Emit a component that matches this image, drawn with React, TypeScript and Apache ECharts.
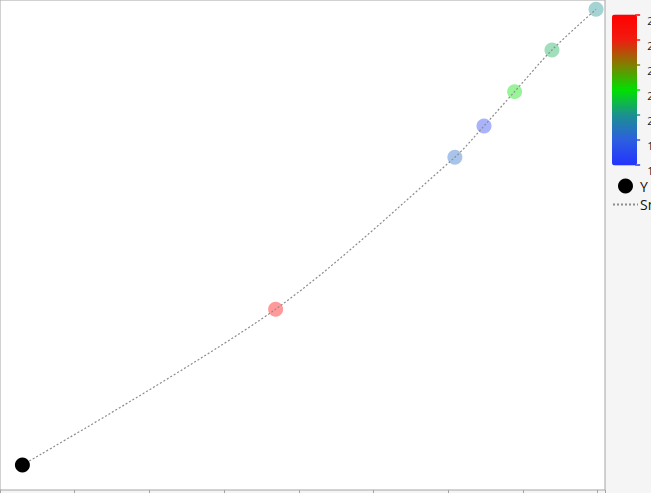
import React, { useEffect, useRef } from "react";
import * as echarts from "echarts";

// Main curve points (x, y)
const startPoint: [number, number] = [0.3, 0.51];
const xValues = [3.69, 6.09, 6.48, 6.89, 7.39, 7.98];
const yValues = [3.69, 6.79, 7.43, 8.13, 8.98, 9.81];
const colorValues = [2.38, 1.925, 1.83, 2.1, 2.04, 2.0];

// Colour bar
const colorMin = 1.8;
const colorMax = 2.4;
const colorTicks = [1.8, 1.9, 2.0, 2.1, 2.2, 2.3, 2.4];
const colorStops = ["#2233ff", "#2c5ee0", "#1c9090", "#00e000", "#808000", "#f01c10", "#ff0000"];

// X axis
const xMin = 0;
const xMax = 8.1;
const xInterval = 1;

export default function App() {
  const ref = useRef<HTMLDivElement>(null);
  useEffect(() => {
    if (!ref.current) return;
    const chart = echarts.init(ref.current, null, { renderer: "svg" });
    const colored = xValues.map((x, i) => [x, yValues[i], colorValues[i]]);
    const lineData = [startPoint, ...xValues.map((x, i) => [x, yValues[i]])];
    chart.setOption({
      animation: false,
      backgroundColor: "#f5f5f5",
      textStyle: { fontFamily: "Open Sans, Noto Sans, sans-serif" },
      grid: [
        {
          left: 0,
          top: 0,
          right: 46,
          bottom: 3,
          show: true,
          backgroundColor: "#ffffff",
          borderColor: "#a4a4a4",
          borderWidth: 1,
        },
        { left: 637, top: 15, width: 5, height: 150 },
      ],
      xAxis: [
        {
          type: "value",
          gridIndex: 0,
          min: xMin,
          max: xMax,
          interval: xInterval,
          axisLine: { show: false },
          axisTick: { show: true, length: 3, lineStyle: { color: "#a4a4a4" } },
          axisLabel: { show: false },
          splitLine: { show: false },
        },
        { type: "value", gridIndex: 1, min: 0, max: 1, show: false },
      ],
      yAxis: [
        {
          type: "value",
          gridIndex: 0,
          min: 0,
          max: 10,
          show: false,
        },
        {
          type: "value",
          gridIndex: 1,
          min: colorMin,
          max: colorMax,
          interval: 0.1,
          position: "right",
          axisLine: { show: false },
          axisTick: { show: false },
          splitLine: { show: false },
          axisLabel: {
            show: true,
            margin: 9,
            fontSize: 11,
            color: "#222",
            verticalAlign: "top",
            formatter: (v: number) => v.toFixed(1),
          },
        },
      ],
      visualMap: [
        {
          type: "continuous",
          min: colorMin,
          max: colorMax,
          dimension: 2,
          seriesIndex: [0],
          calculable: false,
          show: true,
          orient: "vertical",
          left: 612,
          top: 14.5,
          padding: 0,
          itemWidth: 25,
          itemHeight: 151,
          text: ["", ""],
          inRange: { color: colorStops },
        },
        {
          type: "continuous",
          min: colorMin,
          max: colorMax,
          dimension: 1,
          seriesIndex: [3],
          show: false,
          inRange: { color: colorStops },
        },
      ],
      legend: {
        orient: "vertical",
        left: 612,
        top: 178.5,
        itemWidth: 25,
        itemHeight: 15,
        itemGap: 4,
        padding: 0,
        data: [
          { name: "Y", icon: "circle" },
          { name: "Smoothed", itemStyle: { opacity: 0 } },
        ],
        textStyle: { fontSize: 14, color: "#111", padding: [0, 0, 0, -3] },
      },
      series: [
        {
          name: "Points",
          type: "scatter",
          xAxisIndex: 0,
          yAxisIndex: 0,
          symbolSize: 15,
          itemStyle: { opacity: 0.4 },
          data: colored,
          z: 2,
        },
        {
          name: "Smoothed",
          type: "line",
          xAxisIndex: 0,
          yAxisIndex: 0,
          smooth: 0.3,
          symbol: "none",
          lineStyle: { color: "#8c8c8c", width: 1.2, type: [2, 2] },
          itemStyle: { color: "#8c8c8c" },
          data: lineData,
          z: 3,
        },
        {
          name: "Y",
          type: "scatter",
          xAxisIndex: 0,
          yAxisIndex: 0,
          symbolSize: 15,
          itemStyle: { color: "#000000", opacity: 1 },
          data: [startPoint],
          z: 4,
        },
        {
          name: "ColorTicks",
          type: "scatter",
          xAxisIndex: 1,
          yAxisIndex: 1,
          symbol: "rect",
          symbolSize: [5, 1.5],
          itemStyle: { opacity: 1 },
          data: colorTicks.map((v) => [0.5, v]),
          silent: true,
        },
      ],
    });
    return () => chart.dispose();
  }, []);
  return (
    <div
      ref={ref}
      style={{ position: "fixed", left: 0, top: 0, width: 651, height: 493 }}
    />
  );
}
